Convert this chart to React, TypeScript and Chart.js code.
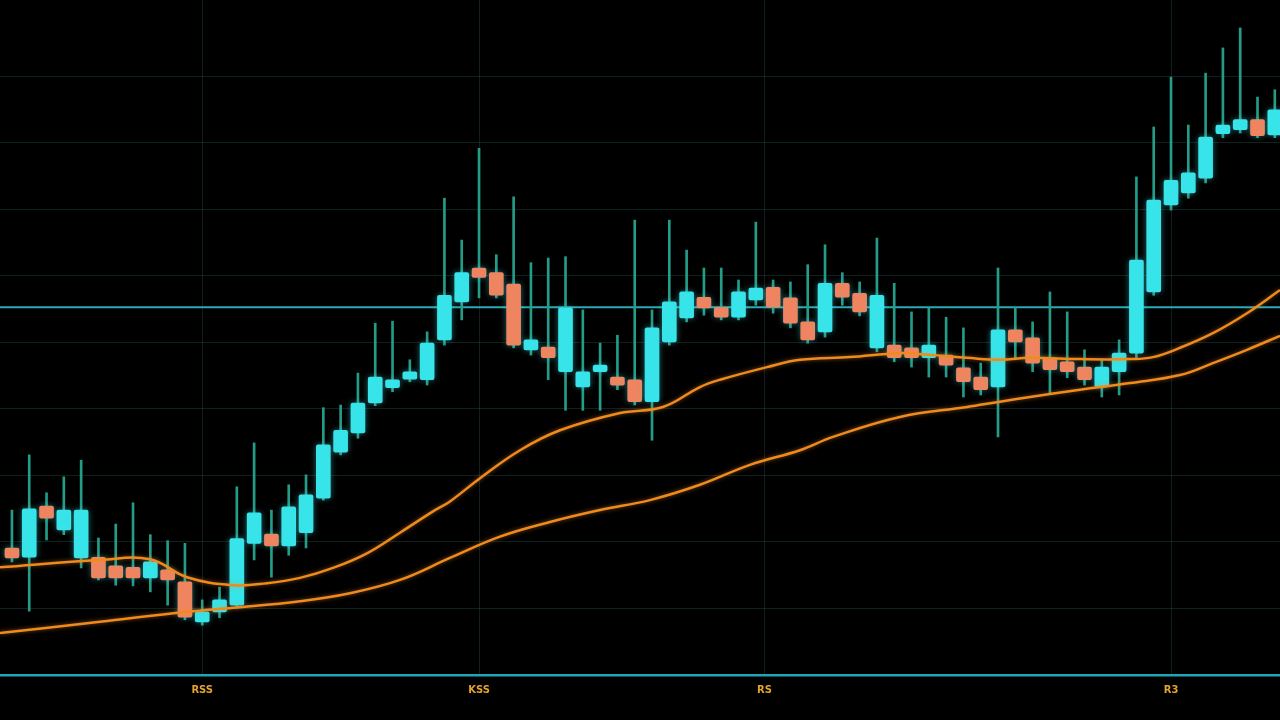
import React, { useEffect, useRef } from "react";
import { Chart, registerables } from "chart.js";

Chart.register(...registerables);

// Candle data (index = session number)
const opens = [19.1,17.7,25.4,21.8,17.6,17.7,16.4,16.2,14.6,15.8,14.0,8.0,9.5,10.5,19.8,21.2,19.4,21.4,26.6,33.5,36.4,40.9,43.2,44.5,44.4,50.4,56.1,61.2,60.5,58.8,48.9,49.3,45.6,43.3,45.6,44.8,44.4,41.1,50.1,53.7,56.8,55.3,53.8,56.4,58.3,56.7,53.1,51.6,58.9,57.4,49.2,49.6,49.2,47.7,48.1,46.2,44.8,43.3,51.9,50.7,47.7,47.1,46.3,43.3,45.6,48.4,57.6,70.7,72.5,74.7,81.4,82.0,83.5,81.2];
const highs = [24.8,33.1,27.4,29.8,32.3,20.6,22.7,25.9,21.1,20.2,19.8,11.3,13.2,28.3,34.9,24.8,28.6,30.1,40.2,40.6,45.4,52.9,53.2,47.4,51.6,71.7,65.4,79.2,63.2,71.9,62.0,62.7,62.9,54.9,49.9,51.1,68.4,54.9,68.4,63.9,61.2,61.2,59.4,68.1,59.4,59.1,61.7,64.7,60.5,59.1,65.7,58.9,54.6,55.2,53.8,52.2,46.9,61.2,55.3,53.1,57.6,54.6,48.9,47.4,50.4,74.9,82.4,89.9,82.7,90.5,94.3,97.3,86.9,88.0];
const lows = [17.0,9.6,20.3,21.1,16.1,14.3,13.5,13.4,12.5,10.5,8.3,7.5,8.6,10.1,17.3,14.7,18.0,19.1,26.3,33.1,35.6,40.5,42.6,44.1,43.6,49.6,53.4,56.7,56.7,49.2,48.1,44.4,39.8,39.8,39.8,42.9,40.6,35.3,49.6,53.1,54.1,53.4,53.4,55.6,54.4,52.2,49.9,50.8,55.6,54.0,48.6,47.1,46.3,44.8,44.8,41.8,42.1,35.8,47.4,45.6,42.4,44.7,43.6,41.8,42.1,47.4,57.1,69.9,71.7,74.0,80.8,81.5,80.8,80.8];
const closes = [17.6,25.0,23.6,24.8,24.8,14.6,14.6,14.6,17.0,14.3,8.7,9.5,11.3,20.5,24.4,19.4,25.3,27.1,34.6,36.8,40.9,44.8,44.4,45.6,49.9,57.1,60.5,59.8,57.1,49.6,50.4,47.7,55.2,45.6,46.6,43.6,41.1,52.2,56.1,57.6,55.2,53.8,57.6,58.2,55.3,52.9,50.4,58.9,56.8,54.6,57.1,47.7,47.7,49.6,46.6,44.1,42.9,51.9,50.1,46.9,45.9,45.6,44.4,46.3,48.4,62.4,71.4,74.4,75.5,80.9,82.7,83.5,81.1,85.0];

// Moving averages (x in session index units)
const maFastX = [-0.69,5.09,7.98,10.12,12.78,14.74,16.65,18.56,20.52,22.43,24.34,25.32,27.06,29.37,31.68,35.15,37.63,39.77,40.93,43.65,45.55,48.44,51.33,53.24,55.21,57.11,58.85,61.74,64.63,65.96,67.52,69.42,71.39,73.3];
const maFastY = [16.2,17.3,17.4,14.7,13.5,13.8,14.6,16.1,18.3,21.4,24.6,26.1,29.6,33.8,36.8,39.4,40.3,43.3,44.4,46.3,47.4,47.8,48.4,48.1,47.7,47.4,47.7,47.5,47.5,47.8,49.2,51.4,54.4,57.9];
const maSlowX = [-0.69,5.09,10.12,12.78,16.65,19.54,22.43,25.32,28.21,31.1,33.99,36.88,39.77,42.66,45.55,47.46,51.33,55.21,57.11,58.85,61.74,64.63,67.52,69.42,71.39,73.3];
const maSlowY = [6.3,8.0,9.5,10.1,11.1,12.3,14.3,17.6,20.8,23.0,24.8,26.3,28.6,31.6,33.8,35.8,38.8,40.3,41.1,41.8,42.9,43.9,45.1,46.9,48.9,51.0];

// Axis labels
const tickIndex = [11, 27, 43.5, 67];
const tickLabels = ["RSS", "KSS", "RS", "R3"];
const resistanceLevel = 55.3;

const CYAN = "#36e4ea";
const ORANGE = "#ee8560";
const WICK = "#239c88";
const MA = "#ef8a1e";

export default function App() {
  const ref = useRef<HTMLCanvasElement | null>(null);

  useEffect(() => {
    if (!ref.current) return;
    const idx = opens.map((_, i) => i);
    const bodyColors = idx.map((i) => (closes[i] >= opens[i] ? CYAN : ORANGE));

    const levelPlugin = {
      id: "levelLine",
      beforeDatasetsDraw(chart: any) {
        const { ctx, chartArea, scales } = chart;
        const y = scales.y.getPixelForValue(resistanceLevel);
        ctx.save();
        ctx.strokeStyle = "#2aaab4";
        ctx.lineWidth = 2;
        ctx.beginPath();
        ctx.moveTo(chartArea.left, y);
        ctx.lineTo(chartArea.right, y);
        ctx.stroke();
        ctx.restore();
      },
    };

    const glowPlugin = {
      id: "glow",
      beforeDatasetDraw(chart: any, args: any) {
        const ctx = chart.ctx;
        ctx.save();
        if (args.meta.type === "bar" && args.index === 3) {
          ctx.shadowColor = "rgba(80,230,235,0.45)";
          ctx.shadowBlur = 6;
        } else if (args.meta.type === "line") {
          ctx.shadowColor = "rgba(255,150,40,0.5)";
          ctx.shadowBlur = 4;
        }
      },
      afterDatasetDraw(chart: any) {
        chart.ctx.restore();
      },
    };

    const chart = new Chart(ref.current, {
      type: "bar",
      data: {
        datasets: [
          {
            type: "line",
            label: "MA fast",
            data: maFastX.map((x, i) => ({ x, y: maFastY[i] })),
            borderColor: MA,
            borderWidth: 2.5,
            pointRadius: 0,
            tension: 0.4,
            order: 0,
          } as any,
          {
            type: "line",
            label: "MA slow",
            data: maSlowX.map((x, i) => ({ x, y: maSlowY[i] })),
            borderColor: MA,
            borderWidth: 2.5,
            pointRadius: 0,
            tension: 0.4,
            order: 0,
          } as any,
          {
            label: "wick",
            data: idx.map((i) => ({ x: i, y: [lows[i], highs[i]] })),
            backgroundColor: WICK,
            barThickness: 2,
            grouped: false,
            order: 3,
          } as any,
          {
            label: "body",
            data: idx.map((i) => ({ x: i, y: [opens[i], closes[i]] })),
            backgroundColor: bodyColors,
            barThickness: 14,
            borderRadius: 2,
            borderSkipped: false,
            grouped: false,
            order: 2,
          } as any,
        ],
      },
      options: {
        animation: false,
        responsive: false,
        maintainAspectRatio: false,
        layout: { padding: 0 },
        plugins: { legend: { display: false }, tooltip: { enabled: false } },
        scales: {
          x: {
            type: "linear",
            min: -0.69,
            max: 73.3,
            offset: false,
            afterBuildTicks: (scale: any) => {
              scale.ticks = tickIndex.map((v) => ({ value: v }));
            },
            afterFit: (scale: any) => {
              scale.height = 45;
            },
            ticks: {
              autoSkip: false,
              maxRotation: 0,
              padding: 9,
              color: "#e3a32e",
              font: { family: "DejaVu Sans", size: 10, weight: "bold" },
              callback: (_v: any, i: number) => tickLabels[i],
            },
            grid: { offset: false, color: "rgba(40,95,85,0.35)", lineWidth: 1, drawTicks: false },
            border: { display: false },
          },
          y: {
            type: "linear",
            min: 0,
            max: 101.5,
            afterFit: (scale: any) => {
              scale.width = 0;
            },
            ticks: { display: false, stepSize: 10 },
            grid: {
              drawTicks: false,
              color: (c: any) =>
                c.tick.value === 0
                  ? "#1ea6b6"
                  : c.tick.value % 10 === 0
                  ? "rgba(40,95,85,0.35)"
                  : "rgba(0,0,0,0)",
              lineWidth: (c: any) => (c.tick.value === 0 ? 2.5 : 1),
            },
            border: { display: false },
          },
        },
      },
      plugins: [levelPlugin, glowPlugin],
    });
    return () => chart.destroy();
  }, []);

  return (
    <div
      style={{
        position: "fixed",
        left: 0,
        top: 0,
        width: 1280,
        height: 720,
        background: "#000",
      }}
    >
      <canvas ref={ref} width={1280} height={720} style={{ display: "block" }} />
    </div>
  );
}
